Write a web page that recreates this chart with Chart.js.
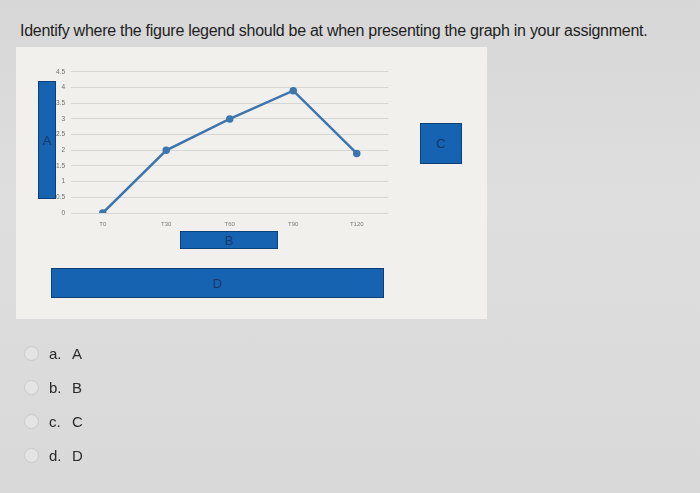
<!DOCTYPE html>
<html>
<head>
<meta charset="utf-8">
<script src="https://cdn.jsdelivr.net/npm/chart.js@4"></script>
<style>
  html, body { margin: 0; padding: 0; }
  body {
    width: 700px; height: 493px; overflow: hidden; position: relative;
    background: linear-gradient(180deg, #d7d7d7 0%, #dedede 40%, #d9d9d9 100%);
    font-family: "Liberation Sans", Arial, sans-serif;
  }
  #question {
    position: absolute; left: 20px; top: 22px;
    font-size: 16px; color: #1e1e1e; letter-spacing: -0.27px;
  }
  #panel {
    position: absolute; left: 16px; top: 47px; width: 471px; height: 272px;
    background: #f1f0ed;
  }
  #chartBox { position: absolute; left: 30px; top: 62px; width: 365px; height: 171px; }
  .box {
    position: absolute; background: #1664b1; border: 1px solid #0d3f78;
    color: #17386a; font-size: 13px; display: flex;
    align-items: center; justify-content: center; box-sizing: border-box;
  }
  .opt { position: absolute; left: 24px; height: 18px; font-size: 15px; color: #2a2a2a; }
  .opt .dot {
    position: absolute; left: 0; top: 1px; width: 15px; height: 15px; border-radius: 50%;
    background: #e4e4e4; border: 1px solid #c9c9c9; box-sizing: border-box;
  }
  .opt .k { position: absolute; left: 25px; top: 0; }
  .opt .v { position: absolute; left: 48px; top: 0; }
</style>
</head>
<body>
<div id="question">Identify where the figure legend should be at when presenting the graph in your assignment.</div>
<div id="panel"></div>
<div id="chartBox"><canvas id="chart"></canvas></div>

<div class="box" style="left:38px; top:81px; width:18px; height:118px;">A</div>
<div class="box" style="left:180px; top:231px; width:98px; height:18px;">B</div>
<div class="box" style="left:420px; top:123px; width:42px; height:41px;">C</div>
<div class="box" style="left:51px; top:268px; width:333px; height:30px;">D</div>

<div class="opt" style="top:345px;"><span class="dot"></span><span class="k">a.</span><span class="v">A</span></div>
<div class="opt" style="top:379px;"><span class="dot"></span><span class="k">b.</span><span class="v">B</span></div>
<div class="opt" style="top:413px;"><span class="dot"></span><span class="k">c.</span><span class="v">C</span></div>
<div class="opt" style="top:447px;"><span class="dot"></span><span class="k">d.</span><span class="v">D</span></div>

<script>
var timeLabels = ["T0", "T30", "T60", "T90", "T120"];
var seriesValues = [0, 2, 3, 3.9, 1.9];
var yTickMax = 4.5;
var yTickStep = 0.5;

var lineColor = "#3d76af";

new Chart(document.getElementById("chart").getContext("2d"), {
	type: "line",
	data: {
		labels: timeLabels,
		datasets: [
			{
				data: seriesValues,
				borderColor: lineColor,
				backgroundColor: lineColor,
				borderWidth: 2.5,
				pointRadius: 2.5,
				tension: 0,
			},
		],
	},
	options: {
		responsive: true,
		maintainAspectRatio: false,
		animation: false,
		layout: { padding: { top: 5, right: 4, left: 0, bottom: 0 } },
		plugins: { legend: { display: false }, tooltip: { enabled: false } },
		scales: {
			x: {
				offset: true,
				grid: { display: false },
				border: { display: false },
				ticks: { color: "#7a7a7a", font: { size: 6 }, padding: 0, maxRotation: 0 },
				afterFit: (scale) => { scale.height = 20; },
			},
			y: {
				min: 0,
				max: yTickMax,
				grid: { color: "#d6d6d4", drawTicks: false },
				border: { display: false },
				ticks: {
					stepSize: yTickStep,
					color: "#6f6f6f",
					font: { size: 6.5 },
					padding: 6,
					callback: (v) => String(v),
				},
				afterFit: (scale) => { scale.width = 41; },
			},
		},
	},
});
</script>
</body>
</html>
